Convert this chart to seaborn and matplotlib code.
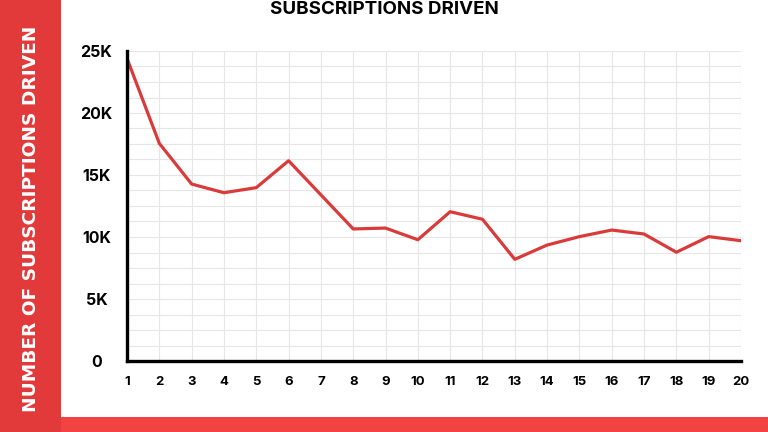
import matplotlib
matplotlib.use("Agg")
import matplotlib.pyplot as plt
import seaborn as sns
import pandas as pd
from matplotlib.patches import Rectangle

# values
weeks = list(range(1, 21))
subscriptions = [24400, 17550, 14270, 13570, 13980, 16150, 13400, 10650, 10720, 9780,
                 12040, 11430, 8200, 9350, 10030, 10560, 10240, 8770, 10030, 9700]
y_ticks = [0, 5000, 10000, 15000, 20000, 25000]
y_labels = ["0", "5K", "10K", "15K", "20K", "25K"]

df = pd.DataFrame({"week": weeks, "subs": subscriptions})

sns.set_style("white")
plt.rcParams["font.family"] = ["Inter", "DejaVu Sans"]

fig = plt.figure(figsize=(7.68, 4.32), dpi=100)
fig.patch.set_facecolor("white")

# red side band and bottom strip
fig.add_artist(Rectangle((0, 0), 61 / 768, 1, transform=fig.transFigure,
                         facecolor="#e23a3a", edgecolor="none", zorder=0))
fig.add_artist(Rectangle((61 / 768, 0), 1, 15 / 432, transform=fig.transFigure,
                         facecolor="#f24242", edgecolor="none", zorder=0))

# side label, wide letters so it fills the band like the original
fig.text(31 / 768, 213 / 432, "NUMBER OF SUBSCRIPTIONS DRIVEN", rotation=90,
         color="white", fontsize=13.3, fontweight="bold", family="DejaVu Sans",
         ha="center", va="center")

# title sits right at the top edge
fig.text(0.5, 0.998, "SUBSCRIPTIONS DRIVEN", color="black", fontsize=13.5,
         fontweight="bold", ha="center", va="top")

ax = fig.add_axes([127 / 768, 71 / 432, 614 / 768, 310 / 432])
sns.lineplot(data=df, x="week", y="subs", ax=ax, color="#d93b3b",
             linewidth=2.3, zorder=3)

ax.set_xlim(1, 20)
ax.set_ylim(0, 25000)
ax.set_xticks(weeks)
ax.set_xticklabels([str(w) for w in weeks], fontsize=9.5, fontweight="bold",
                   color="black")
ax.set_yticks([i * 1250 for i in range(21)], minor=True)
ax.set_yticks(y_ticks)
ax.set_yticklabels(y_labels, fontsize=11.5, fontweight="bold", color="black")
for lbl in ax.get_yticklabels():
    lbl.set_horizontalalignment("center")

ax.tick_params(axis="x", length=0, pad=11)
ax.tick_params(axis="y", which="both", length=0, pad=22)
ax.grid(True, which="both", color="#e6e6e6", linewidth=0.8)
ax.set_axisbelow(True)
ax.set_xlabel("")
ax.set_ylabel("")

for side in ["top", "right"]:
    ax.spines[side].set_visible(False)
for side in ["left", "bottom"]:
    ax.spines[side].set_color("black")
    ax.spines[side].set_linewidth(2.4)
    ax.spines[side].set_zorder(4)

fig.savefig("out.png", dpi=100)
